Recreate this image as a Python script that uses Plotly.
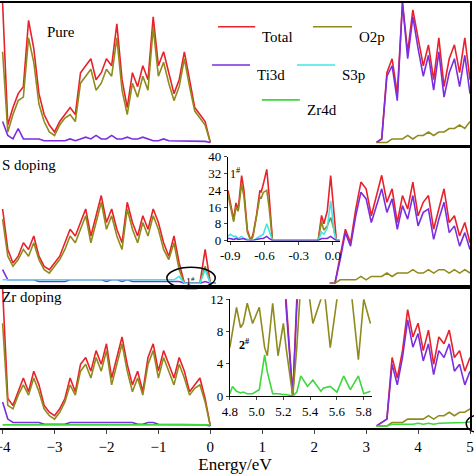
import plotly.graph_objects as go

# ---- Pure ----
e_vb = [-4.0, -3.9, -3.8, -3.7, -3.6, -3.5, -3.4, -3.3, -3.2, -3.1, -3.0, -2.9, -2.8, -2.7, -2.6, -2.5,
        -2.4, -2.3, -2.2, -2.1, -2.0, -1.9, -1.8, -1.7, -1.6, -1.5, -1.4, -1.3, -1.2, -1.1, -1.0, -0.9,
        -0.8, -0.7, -0.6, -0.5, -0.4, -0.3, -0.2, -0.1, 0.0]
tot_p = [40, 5, 10, 14, 16, 35, 27, 14, 8, 5, 3, 6, 8, 10, 8, 20, 22, 24, 18, 20, 24, 22, 34, 18, 10, 20,
         16, 22, 18, 36, 22, 26, 20, 14, 18, 26, 18, 10, 8, 6, 0]
o2p_p = [26, 3, 8, 12, 13, 30, 23, 11, 6, 3, 2, 5, 7, 8, 6, 17, 19, 21, 15, 17, 21, 19, 30, 15, 8, 17,
         13, 19, 15, 33, 19, 23, 17, 12, 16, 24, 16, 9, 7, 5, 0]
ti_p = [6, 2, 1, 4, 1, 1, 1, 1, 0.5, 0.5, 0.5, 0.5, 0.5, 1, 0.5, 1, 1.5, 1, 2, 1, 1, 2, 1, 1, 1.5, 1,
        1, 1.5, 1, 0.5, 0.5, 1, 0.5, 0.5, 0.5, 0.5, 0.3, 0.3, 0.3, 0.3, 0]

e_cb = [3.2, 3.3, 3.4, 3.5, 3.6, 3.7, 3.8, 3.9, 4.0, 4.1, 4.2, 4.3, 4.4, 4.5, 4.6, 4.7, 4.8, 4.9, 5.0]
tot_pc = [0, 1, 20, 24, 14, 40, 26, 38, 30, 22, 28, 18, 30, 16, 24, 28, 20, 30, 18]
ti_pc = [0, 1, 19, 22, 12, 40, 24, 36, 27, 19, 25, 15, 26, 13, 20, 24, 16, 25, 14]
o2p_pc = [0, 0, 0, 1, 1, 1, 2, 1, 2, 2, 3, 2, 3, 3, 4, 4, 5, 4, 6]

# ---- S doping ----
e_vb_s = e_vb + [0.1]
tot_s = [22, 10, 6, 8, 12, 10, 14, 8, 5, 4, 6, 8, 12, 16, 14, 18, 22, 14, 20, 26, 18, 22, 16, 12, 24, 18,
         14, 20, 16, 22, 18, 12, 8, 14, 6, 0, 0, 0, 0, 10, 0, 0]
o2p_s = [19, 8, 5, 7, 10, 8, 12, 7, 4, 3, 5, 7, 10, 14, 12, 16, 20, 12, 18, 24, 16, 20, 14, 10, 22, 16,
         12, 18, 14, 20, 16, 10, 7, 12, 4, 0, 0, 0, 0, 5, 0, 0]
ti_s = [4, 1, 1, 1, 1, 1, 1, 0.5, 0.5, 0.5, 0.5, 0.5, 0.5, 1, 1, 1, 1, 1, 1, 1, 0.5, 1, 1, 0.5, 1, 0.5,
        0.5, 0.5, 0.5, 0.5, 0.5, 0.5, 0.5, 0.5, 0.5, 0, 0, 0, 0, 0.5, 0, 0]
s3p_s = [1, 1, 1, 1, 1, 1, 1, 1, 1, 1, 1, 1, 1, 1, 1, 1, 1, 1, 1, 1, 1, 1, 1, 1, 1, 1,
         1, 1, 1, 1, 1, 1, 1, 1, 2, 0, 0, 0, 0, 4, 0, 0]

e_cb_s = [2.3, 2.4, 2.5, 2.6, 2.7, 2.8, 2.9, 3.0, 3.1, 3.2, 3.3, 3.4, 3.5, 3.6, 3.7, 3.8, 3.9, 4.0, 4.1,
          4.2, 4.3, 4.4, 4.5, 4.6, 4.7, 4.8, 4.9, 5.0]
tot_sc = [0, 0, 8, 16, 12, 22, 30, 28, 20, 26, 32, 24, 28, 18, 26, 22, 30, 20, 24, 26, 16, 22, 28, 18,
          20, 14, 18, 12]
ti_sc = [0, 0, 7, 15, 11, 20, 27, 25, 18, 23, 28, 21, 25, 16, 23, 19, 26, 17, 21, 22, 13, 19, 24, 15,
         17, 11, 15, 10]
o2p_sc = [0, 0, 1, 1, 1, 1, 2, 1, 2, 2, 2, 3, 2, 3, 3, 3, 4, 3, 3, 4, 3, 4, 4, 3, 4, 3, 4, 3]

# ---- Zr doping ----
tot_z = [40, 8, 6, 10, 14, 10, 16, 12, 6, 4, 3, 5, 8, 14, 10, 18, 20, 16, 22, 18, 24, 14, 20, 26, 18, 12,
         16, 10, 20, 24, 16, 22, 18, 14, 20, 16, 10, 12, 14, 8, 0]
o2p_z = [30, 6, 5, 9, 12, 9, 14, 10, 5, 3, 2, 4, 7, 12, 9, 16, 18, 14, 20, 16, 22, 12, 18, 24, 16, 10,
         14, 9, 18, 22, 14, 20, 16, 12, 18, 14, 9, 11, 12, 7, 0]
ti_z = [7, 2, 1, 1, 1, 1, 1, 1, 0.5, 0.5, 0.5, 0.5, 0.5, 1, 1, 1, 1, 1, 1, 1, 1, 1, 1, 1, 1, 1,
        0.5, 0.5, 1, 1, 0.5, 0.5, 0.5, 0.5, 0.5, 0.5, 0.5, 0.3, 0.3, 0.3, 0]
zr_z = [0.3] * 41

tot_zc = [0, 1, 2, 20, 14, 22, 34, 26, 30, 22, 28, 18, 26, 24, 28, 20, 22, 16, 20]
ti_zc = [0, 1, 2, 18, 12, 20, 31, 23, 27, 19, 24, 15, 22, 20, 24, 16, 18, 12, 16]
o2p_zc = [0, 0, 0, 1, 1, 1, 2, 2, 2, 2, 3, 2, 3, 3, 4, 3, 4, 4, 5]
zr_zc = [0, 0, 0, 0.5, 0.5, 0.5, 0.5, 0.5, 0.8, 0.5, 0.8, 0.5, 0.8, 0.8, 1, 0.8, 1, 1, 1.2]

# ---- inset 1 (S doping gap states) ----
e_in1 = [-0.92, -0.9, -0.87, -0.85, -0.83, -0.8, -0.78, -0.75, -0.72, -0.7, -0.67, -0.64, -0.63, -0.61,
         -0.58, -0.56, -0.53, -0.13, -0.1, -0.08, -0.05, -0.02, 0.01, 0.03, 0.06]
tot_in1 = [24, 19, 10, 18, 15, 31, 24, 5, 0, 3, 12, 24, 23, 27, 34, 22, 0, 0, 12, 8, 14, 31, 10, 0, 0]
o2p_in1 = [22, 17, 9, 16, 14, 27, 21, 4, 0, 2, 11, 21, 20, 23, 24, 16, 0, 0, 9, 5, 7, 11, 5, 0, 0]
ti_in1 = [1, 1, 0.5, 1, 0.5, 1, 1, 0, 0, 0, 0.5, 1, 1, 1, 2, 1, 0, 0, 1, 1, 1, 2, 1, 0, 0]
s3p_in1 = [2, 3, 2, 2, 1, 2, 1, 0.5, 0, 0, 1, 2, 2, 3, 8, 5, 0, 0, 4, 3, 6, 19, 4, 0, 0]

# ---- inset 2 (Zr doping) ----
e_in2 = [4.8, 4.82, 4.85, 4.88, 4.9, 4.93, 4.97, 5.02, 5.06, 5.08, 5.12, 5.16, 5.2, 5.22, 5.27, 5.3,
         5.33, 5.38, 5.42, 5.48, 5.5, 5.55, 5.6, 5.65, 5.7, 5.76, 5.8, 5.85]
tot_in2 = [20, 20, 20, 20, 20, 20, 20, 20, 20, 20, 20, 20, 20, 12, 0, 12, 20, 20, 20, 20, 20, 20, 20,
           20, 20, 20, 20, 20]
ti_in2 = [18, 18, 18, 18, 18, 18, 18, 18, 18, 18, 18, 18, 18, 11, 0, 11, 18, 18, 18, 18, 18, 18, 18,
          18, 18, 18, 18, 18]
o2p_in2 = [6, 8, 11, 8.5, 9, 11.5, 9, 11, 6, 5, 11.5, 5, 9, 6, 0, 6, 14, 14, 9, 12, 14, 6, 12, 14, 14,
           4.5, 12, 9]
zr_in2 = [0.3, 1.2, 0.6, 0.4, 0.5, 0.3, 0.3, 0.8, 5.1, 3, 0.3, 0.3, 0.2, 0.2, 0, 0.5, 2.5, 1.2, 2, 0.6,
          1, 1.2, 0.5, 2.5, 0.8, 2.5, 0.3, 0.6]

RED, OLIVE, PURP, CYAN, GREEN = "#e8212a", "#8f8a1c", "#7a2ee0", "#40e6e6", "#3cd83c"

fig = go.Figure()


def add(x, y, color, xa, ya, w=1.6):
    fig.add_trace(go.Scatter(x=x, y=y, mode="lines", line=dict(color=color, width=w),
                             xaxis=xa, yaxis=ya, showlegend=False, hoverinfo="skip"))


# top panel
for x, ys in [(e_vb, [tot_p, o2p_p, ti_p]), (e_cb, [tot_pc, o2p_pc, ti_pc])]:
    for y, c in zip(ys, [RED, OLIVE, PURP]):
        add(x, y, c, "x3", "y")
# middle panel
add(e_vb_s, tot_s, RED, "x2", "y2"); add(e_vb_s, o2p_s, OLIVE, "x2", "y2")
add(e_vb_s, ti_s, PURP, "x2", "y2"); add(e_vb_s, s3p_s, CYAN, "x2", "y2")
add(e_cb_s, tot_sc, RED, "x2", "y2"); add(e_cb_s, ti_sc, PURP, "x2", "y2"); add(e_cb_s, o2p_sc, OLIVE, "x2", "y2")
# bottom panel
add(e_vb, tot_z, RED, "x", "y3"); add(e_vb, o2p_z, OLIVE, "x", "y3")
add(e_vb, ti_z, PURP, "x", "y3"); add(e_vb, zr_z, GREEN, "x", "y3")
add(e_cb, tot_zc, RED, "x", "y3"); add(e_cb, ti_zc, PURP, "x", "y3")
add(e_cb, o2p_zc, OLIVE, "x", "y3"); add(e_cb, zr_zc, GREEN, "x", "y3")
# insets
add(e_in1, tot_in1, RED, "x4", "y4"); add(e_in1, o2p_in1, OLIVE, "x4", "y4")
add(e_in1, s3p_in1, CYAN, "x4", "y4"); add(e_in1, ti_in1, PURP, "x4", "y4")
add(e_in2, tot_in2, RED, "x5", "y5"); add(e_in2, ti_in2, PURP, "x5", "y5")
add(e_in2, o2p_in2, OLIVE, "x5", "y5"); add(e_in2, zr_in2, GREEN, "x5", "y5")

F = dict(family="Liberation Serif", color="black")
yhid = dict(range=[-0.6, 40], showticklabels=False, ticks="", showgrid=False, zeroline=False,
            showline=True, linecolor="black", linewidth=1.5, mirror=True, automargin=False)
xbase = dict(domain=[0, 1], range=[-4.05, 5.0], showgrid=False, zeroline=False, showline=True,
             linecolor="black", linewidth=1.5, mirror=True, automargin=False)
inax = dict(ticks="outside", ticklen=3, showline=True, linecolor="black", showgrid=False,
            zeroline=False, tickfont=dict(size=13, **F), automargin=False)

fig.update_layout(
    width=474, height=474, margin=dict(l=0, r=4, t=3, b=46),
    plot_bgcolor="white", paper_bgcolor="white", font=dict(size=14, **F),
    xaxis=dict(xbase, anchor="y3", ticks="outside", ticklen=4, tickvals=list(range(-4, 6)),
               tickfont=dict(size=15, **F), ticklabeloverflow="allow",
               title=dict(text="Energy/eV", font=dict(size=17, **F), standoff=0)),
    xaxis2=dict(xbase, anchor="y2", showticklabels=False),
    xaxis3=dict(xbase, anchor="y", showticklabels=False),
    yaxis=dict(yhid, domain=[0.667, 1.0]),
    yaxis2=dict(yhid, domain=[0.336, 0.658]),
    yaxis3=dict(yhid, domain=[0.0, 0.327]),
    xaxis4=dict(inax, domain=[0.485, 0.723], anchor="y4", range=[-0.92, 0.06],
                tickvals=[-0.9, -0.6, -0.3, 0.0], ticktext=["-0.9", "-0.6", "-0.3", "0.0"]),
    yaxis4=dict(inax, domain=[0.441, 0.638], anchor="x4", range=[0, 40], tickvals=[0, 8, 16, 24, 32, 40]),
    xaxis5=dict(inax, domain=[0.489, 0.791], anchor="y5", range=[4.8, 5.86],
                tickvals=[4.8, 5.0, 5.2, 5.4, 5.6, 5.8], tickformat=".1f"),
    yaxis5=dict(inax, domain=[0.075, 0.303], anchor="x5", range=[0, 12], tickvals=[0, 4, 8, 12]),
)

ann = [("Pure", 0.095, 0.955), ("S doping", 0.0, 0.62), ("Zr doping", 0.0, 0.285)]
for t, x, y in ann:
    fig.add_annotation(text=t, x=x, y=y, xref="paper", yref="paper", xanchor="left",
                       showarrow=False, font=dict(size=15, **F))

# legend drawn by hand
leg = [("Total", RED, 0.464, 0.543, 0.944), ("O2p", OLIVE, 0.666, 0.749, 0.944),
       ("Ti3d", PURP, 0.451, 0.532, 0.854), ("S3p", CYAN, 0.632, 0.713, 0.854),
       ("Zr4d", GREEN, 0.557, 0.638, 0.772)]
for t, c, x0, x1, y in leg:
    fig.add_shape(type="line", xref="paper", yref="paper", x0=x0, x1=x1, y0=y, y1=y,
                  line=dict(color=c, width=1.6))
    fig.add_annotation(text=t, x=x1 + 0.01, y=y, xref="paper", yref="paper", xanchor="left",
                       showarrow=False, font=dict(size=15, **F))

fig.add_annotation(text="1<sup>#</sup>", x=0.5, y=0.60, xref="paper", yref="paper",
                   showarrow=False, font=dict(size=12, **F))
fig.add_annotation(text="<b>2<sup>#</sup></b>", x=0.52, y=0.175, xref="paper", yref="paper",
                   showarrow=False, font=dict(size=12, **F))
fig.add_annotation(text="1<sup>#</sup>", x=0.405, y=0.345, xref="paper", yref="paper",
                   showarrow=False, font=dict(size=10, **F))
fig.add_shape(type="circle", xref="paper", yref="paper", x0=0.355, x1=0.458, y0=0.328, y1=0.378,
              line=dict(color="black", width=1.5))
fig.add_shape(type="circle", xref="paper", yref="paper", x0=0.992, x1=1.04, y0=-0.01, y1=0.03,
              line=dict(color="black", width=1.5))

fig.write_html("out.html", config={"displayModeBar": False},
               post_script="document.body.style.margin='0';")
